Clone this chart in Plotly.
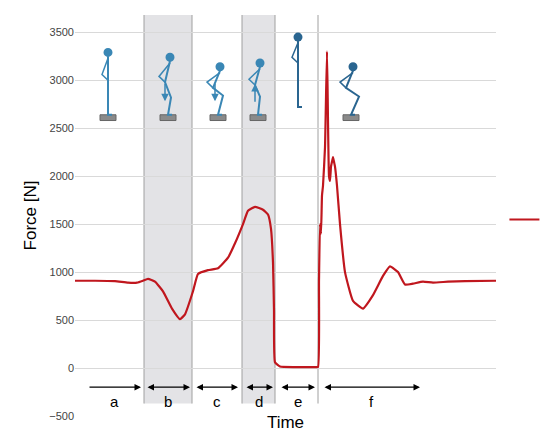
import plotly.graph_objects as go

# time index (arbitrary units) and vertical force Fz [N]
t = [0, 20, 40, 53, 62, 68, 73, 80, 88, 97, 105, 110, 118, 123, 133, 143, 153, 160, 168, 173, 180, 188, 193, 196, 198, 199, 200, 205, 220, 240, 243,
     244, 245, 246, 247, 248, 250, 252, 254, 255, 256, 257, 258, 259, 260, 262, 265, 270, 278, 288, 298, 308, 315, 323, 330, 338, 348, 358, 373, 390, 421]
fz = [910, 910, 905, 890, 890, 910, 930, 900, 800, 620, 510, 560, 800, 980, 1020, 1040, 1150, 1300, 1500, 1640, 1680, 1650, 1600, 1450, 1100, 600, 60, 15, 10, 10, 10,
      900, 1500, 1400, 1800, 1900, 2300, 3300, 2000, 1950, 2100, 2150, 2200, 2150, 2100, 1900, 1500, 1000, 700, 620, 760, 960, 1060, 1000, 870, 880, 900, 890, 900, 905, 910]

labels = ["a", "b", "c", "d", "e", "f"]
seg_start = [13, 71, 120, 170, 205, 248]
seg_end = [66, 115, 163, 198, 240, 345]
shaded = [(69, 117), (167, 200)]
vlines = [69, 117, 167, 200, 243]
yticks = [-500, 0, 500, 1000, 1500, 2000, 2500, 3000, 3500]

fig = go.Figure()
fig.add_trace(go.Scatter(x=t, y=fz, mode="lines", name="Fz", showlegend=True,
                         line=dict(color="#c0171e", width=2.2, shape="spline", smoothing=0.4)))

shapes = []
for a, b in shaded:
    shapes.append(dict(type="rect", x0=a, x1=b, y0=-370, y1=3680, xref="x", yref="y",
                       fillcolor="rgba(200,200,205,0.5)", line=dict(width=0), layer="below"))
for v in vlines:
    shapes.append(dict(type="line", x0=v, x1=v, y0=-370, y1=3680, xref="x", yref="y",
                       line=dict(color="#a0a0a0", width=1), layer="below"))

# stick figures (illustrations)
fig_x = [33, 93, 143, 183, 223, 276]
pose = ["stand", "down", "squat", "up", "air", "land"]
col = "#3a87b5"
for cx, p in zip(fig_x, pose):
    c = "#2a6590" if p in ("air", "land") else col
    if p != "air":
        shapes.append(dict(type="rect", x0=cx - 8, x1=cx + 8, y0=2580, y1=2640, xref="x", yref="y",
                           fillcolor="#8a8a8a", line=dict(color="#666", width=1)))
    if p == "stand":
        hx, hy, hip, knee = cx, 3290, (cx, 3000), (cx, 2850)
    elif p == "down":
        hx, hy, hip, knee = cx + 2, 3240, (cx - 3, 2980), (cx + 3, 2820)
    elif p == "squat":
        hx, hy, hip, knee = cx + 2, 3140, (cx - 5, 2920), (cx + 5, 2840)
    elif p == "up":
        hx, hy, hip, knee = cx + 2, 3180, (cx - 3, 2950), (cx + 2, 2830)
    elif p == "air":
        hx, hy, hip, knee = cx, 3450, (cx, 3180), (cx, 3000)
    else:
        hx, hy, hip, knee = cx + 2, 3140, (cx - 5, 2920), (cx + 8, 2830)
    foot_y = 2720 if p == "air" else 2640
    shapes.append(dict(type="circle", x0=hx - 4.5, x1=hx + 4.5, y0=hy - 47, y1=hy + 47, xref="x", yref="y",
                       fillcolor=c, line=dict(width=0)))
    shapes.append(dict(type="path", xref="x", yref="y",
                       path=f"M {hx},{hy-40} L {hip[0]},{hip[1]} L {knee[0]},{knee[1]} L {cx},{foot_y} L {cx+4},{foot_y}",
                       line=dict(color=c, width=2)))
    shapes.append(dict(type="path", xref="x", yref="y",
                       path=f"M {hx},{hy-60} L {hip[0]-6},{hip[1]+60} L {hip[0]},{hip[1]}",
                       line=dict(color=c, width=1.5)))

annotations = []
for lab, s, e in zip(labels, seg_start, seg_end):
    annotations.append(dict(x=e, y=-200, ax=s, ay=-200, xref="x", yref="y", axref="x", ayref="y",
                            showarrow=True, arrowhead=2, arrowsize=1, arrowwidth=1.3, arrowcolor="black",
                            arrowside="end" if lab == "a" else "end+start", text=""))
    annotations.append(dict(x=(s + e) / 2, y=-350, text=lab, showarrow=False, xref="x", yref="y",
                            font=dict(size=15, color="black")))
for cx, dirn in [(90, -1), (140, -1), (180, 1)]:
    y0, y1 = (2980, 2780) if dirn < 0 else (2760, 2960)
    annotations.append(dict(x=cx, y=y1, ax=cx, ay=y0, xref="x", yref="y", axref="x", ayref="y",
                            showarrow=True, arrowhead=2, arrowwidth=1.5, arrowcolor=col, text=""))

fig.update_layout(
    width=550, height=434, plot_bgcolor="white", paper_bgcolor="white",
    margin=dict(l=67, r=62, t=7, b=26, autoexpand=False),
    font=dict(family="Liberation Sans, Arial", color="black"),
    shapes=shapes, annotations=annotations,
    legend=dict(x=1.02, y=0.49, yanchor="middle", font=dict(size=10, color="#444")),
    xaxis=dict(range=[0, 421], showticklabels=False, showgrid=False, zeroline=False, automargin=False,
               title=dict(text="Time", font=dict(size=17), standoff=0)),
    yaxis=dict(range=[-500, 3680], tickvals=yticks, gridcolor="#d9d9d9", zeroline=False, automargin=False,
               tickfont=dict(size=11, color="#444"),
               title=dict(text="Force [N]", font=dict(size=17), standoff=8)),
)
fig.write_html("out.html")
